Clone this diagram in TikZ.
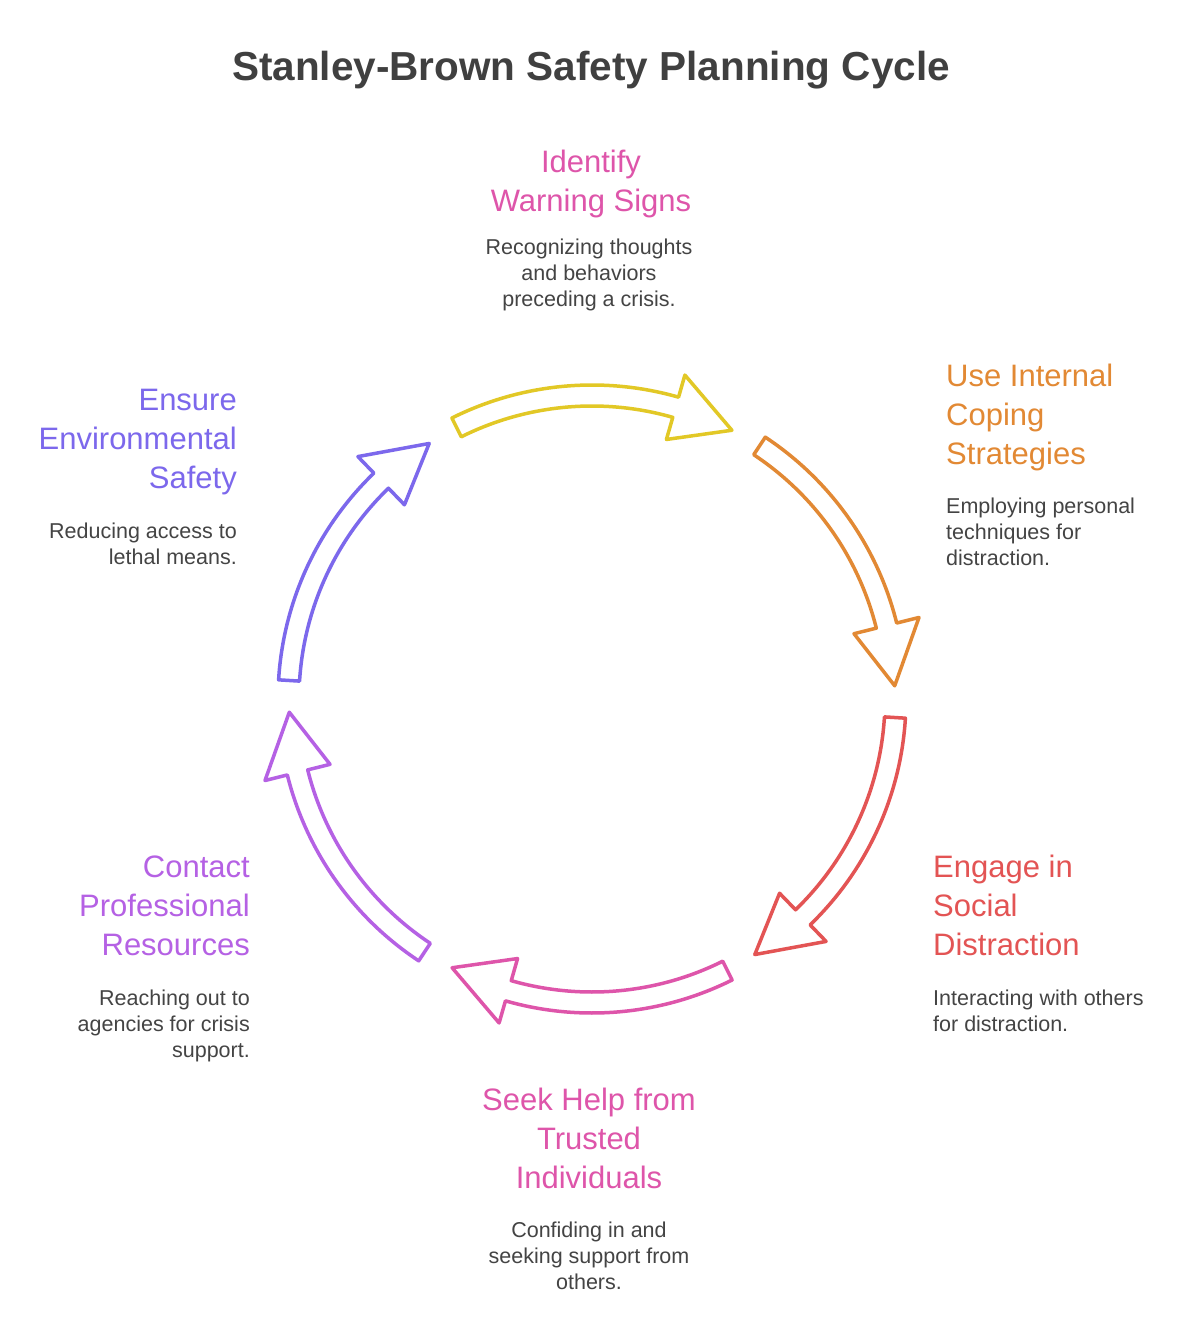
\documentclass[tikz,border=0pt]{standalone}
\usepackage{fontspec}
\setmainfont{Liberation Sans}
\usetikzlibrary{calc}

\definecolor{cyellow}{RGB}{226,200,38}
\definecolor{corange}{RGB}{226,137,52}
\definecolor{cred}{RGB}{227,84,84}
\definecolor{cpink}{RGB}{222,85,170}
\definecolor{cpurple}{RGB}{181,97,228}
\definecolor{cviolet}{RGB}{124,104,236}
\definecolor{bodygray}{RGB}{68,68,68}
\definecolor{titlegray}{RGB}{64,64,64}

\tikzset{
  headtext/.style={inner sep=0pt, font=\fontsize{31}{39}\selectfont},
  bodytext/.style={inner sep=0pt, text=bodygray, font=\fontsize{21.5}{26}\selectfont},
  cyclearrow/.style={line width=3.5, line join=round, fill=white}
}

\begin{document}
\begin{tikzpicture}[x=1pt,y=-1pt]
  \fill [white] (0,0) rectangle (1200,1319);
  \useasboundingbox (0,0) rectangle (1200,1319);
  \coordinate (ctr) at (592,699);

  %Shape: Curved Arrows (one per step, clockwise)
  \foreach \a/\col in {-90/cyellow,-30/corange,30/cred,90/cpink,150/cpurple,210/cviolet}{
    \draw [cyclearrow, draw=\col] ($(ctr)+(\a-26.5:314)$) arc [start angle=\a-26.5, end angle=\a+16, radius=314]
      -- ($(ctr)+(\a+16:337)$) -- ($(ctr)+(\a+27.5:303)$) -- ($(ctr)+(\a+16:270)$) -- ($(ctr)+(\a+16:293)$)
      arc [start angle=\a+16, end angle=\a-26.5, radius=293] -- cycle;
  }

  % Text Node (base anchor = last line)
  \node [anchor=base, inner sep=0pt, text=titlegray, font=\bfseries\fontsize{40.5}{48}\selectfont] (title) at (591,81) {Stanley-Brown Safety Planning Cycle};

  % Text Node
  \node [headtext, anchor=base, align=center, text=cpink] (identify) at (591,211) {Identify\\Warning Signs};
  \node [bodytext, anchor=base, align=center] (identifytxt) at (589,306) {Recognizing thoughts\\and behaviors\\preceding a crisis.};

  % Text Node
  \node [headtext, anchor=base west, align=left, text=corange] (coping) at (946,464) {Use Internal\\Coping\\Strategies};
  \node [bodytext, anchor=base west, align=left] (copingtxt) at (946,565) {Employing personal\\techniques for\\distraction.};

  % Text Node
  \node [headtext, anchor=base west, align=left, text=cred] (social) at (933,955) {Engage in\\Social\\Distraction};
  \node [bodytext, anchor=base west, align=left] (socialtxt) at (933,1031) {Interacting with others\\for distraction.};

  % Text Node
  \node [headtext, anchor=base, align=center, text=cpink] (trusted) at (589,1188) {Seek Help from\\Trusted\\Individuals};
  \node [bodytext, anchor=base, align=center] (trustedtxt) at (589,1289) {Confiding in and\\seeking support from\\others.};

  % Text Node
  \node [headtext, anchor=base east, align=right, text=cpurple] (contact) at (250,955) {Contact\\Professional\\Resources};
  \node [bodytext, anchor=base east, align=right] (contacttxt) at (250,1057) {Reaching out to\\agencies for crisis\\support.};

  % Text Node
  \node [headtext, anchor=base east, align=right, text=cviolet] (ensure) at (237,488) {Ensure\\Environmental\\Safety};
  \node [bodytext, anchor=base east, align=right] (ensuretxt) at (237,564) {Reducing access to\\lethal means.};

\end{tikzpicture}
\end{document}
